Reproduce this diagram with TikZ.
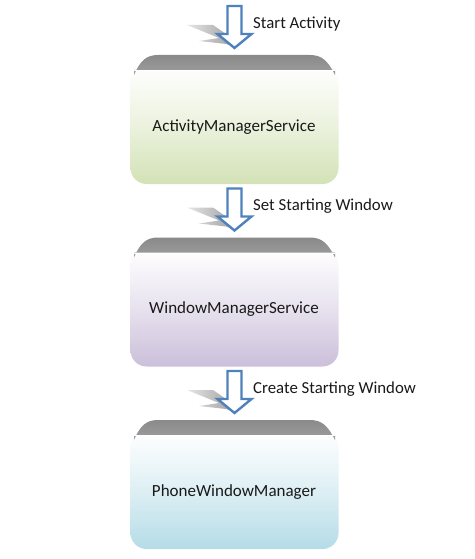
\documentclass[tikz,border=0pt]{standalone}
\usepackage{fontspec}
\setmainfont{Carlito}
\definecolor{boxgreen}{HTML}{D3E2B6}
\definecolor{boxpurple}{HTML}{CBBFDA}
\definecolor{boxblue}{HTML}{B5DCE7}
\definecolor{arrowblue}{HTML}{4F81BD}
\tikzset{
  bodytext/.style={font=\fontsize{17}{20}\selectfont, text=black!90, inner sep=0pt},
  steplabel/.style={font=\fontsize{16.8}{20}\selectfont, text=black!90, anchor=west, inner sep=0pt},
  bandshade/.style={top color=black!46, bottom color=black!38},
  shadowshade/.style={left color=black!10, right color=black!38},
  blockarrow/.style={draw=arrowblue, line width=2.4pt, fill=white, line join=miter},
}
\begin{document}
\begin{tikzpicture}[x=1pt,y=-1pt]
\useasboundingbox (0,0) rectangle (474,559);
\foreach \i/\col/\txt/\lab in {0/boxgreen/ActivityManagerService/Start Activity,
                               1/boxpurple/WindowManagerService/Set Starting Window,
                               2/boxblue/PhoneWindowManager/Create Starting Window}{
  \begin{scope}[yshift={-\i*182.5pt}]
    % shadow of the block arrow
    \shade[shadowshade] (187,25) -- (213,25) -- (226,34) -- (235,47) -- (226,44) -- (199,41) -- (219,38) -- cycle;
    % block arrow
    \draw[blockarrow] (227.5,6) -- (241.5,6) -- (241.5,34) -- (251.5,34) -- (234.5,48) -- (217.5,34) -- (227.5,34) -- cycle;
    \node[steplabel] (lab\i) at (253,24) {\lab};
    % body of the box
    \shade[top color=white, bottom color=\col, middle color=\col!45!white, rounded corners=16pt]
      (130.5,66) rectangle (338.5,184);
    % bevelled top band
    \shade[bandshade] (134,75) .. controls (140,61) and (146,55) .. (158,55) -- (310,55)
      .. controls (322,55) and (328,61) .. (335,75) -- (335,70) -- (134,70) -- cycle;
    \fill[white] (134,70) rectangle (335,70.8);
    \node[bodytext] (box\i) at (234,127) {\txt};
  \end{scope}
}
\end{tikzpicture}
\end{document}
